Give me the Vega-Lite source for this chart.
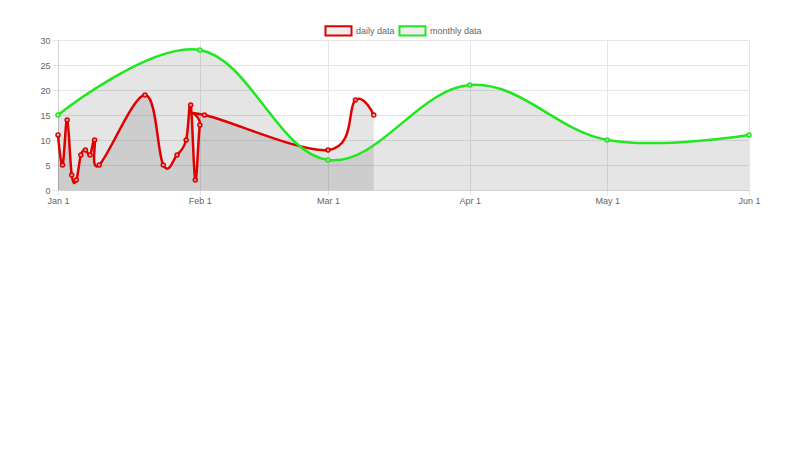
{
  "$schema": "https://vega.github.io/schema/vega-lite/v6.json",
  "autosize": "none",
  "width": 691,
  "height": 150,
  "padding": {"left": 58, "top": 40, "right": 51, "bottom": 260},
  "background": "white",
  "config": {
    "view": {"stroke": null},
    "font": "Liberation Sans",
    "axis": {
      "labelColor": "#666",
      "labelFontSize": 9,
      "labelFont": "Liberation Sans",
      "gridColor": "#e6e6e6",
      "tickColor": "#e6e6e6",
      "domainColor": "#d0d0d0",
      "labelFlush": false,
      "title": null
    }
  },
  "datasets": {
    "series": [
      {"date": "2017-01-01", "value": 11, "series": "daily data"},
      {"date": "2017-01-02", "value": 5, "series": "daily data"},
      {"date": "2017-01-03", "value": 14, "series": "daily data"},
      {"date": "2017-01-04", "value": 3, "series": "daily data"},
      {"date": "2017-01-05", "value": 2, "series": "daily data"},
      {"date": "2017-01-06", "value": 7, "series": "daily data"},
      {"date": "2017-01-07", "value": 8, "series": "daily data"},
      {"date": "2017-01-08", "value": 7, "series": "daily data"},
      {"date": "2017-01-09", "value": 10, "series": "daily data"},
      {"date": "2017-01-10", "value": 5, "series": "daily data"},
      {"date": "2017-01-20", "value": 19, "series": "daily data"},
      {"date": "2017-01-24", "value": 5, "series": "daily data"},
      {"date": "2017-01-27", "value": 7, "series": "daily data"},
      {"date": "2017-01-29", "value": 10, "series": "daily data"},
      {"date": "2017-01-30", "value": 17, "series": "daily data"},
      {"date": "2017-01-31", "value": 2, "series": "daily data"},
      {"date": "2017-02-01", "value": 13, "series": "daily data"},
      {"date": "2017-02-02", "value": 15, "series": "daily data"},
      {"date": "2017-03-01", "value": 8, "series": "daily data"},
      {"date": "2017-03-07", "value": 18, "series": "daily data"},
      {"date": "2017-03-11", "value": 15, "series": "daily data"},
      {"date": "2017-01-01", "value": 15, "series": "monthly data"},
      {"date": "2017-02-01", "value": 28, "series": "monthly data"},
      {"date": "2017-03-01", "value": 6, "series": "monthly data"},
      {"date": "2017-04-01", "value": 21, "series": "monthly data"},
      {"date": "2017-05-01", "value": 10, "series": "monthly data"},
      {"date": "2017-06-01", "value": 11, "series": "monthly data"}
    ]
  },
  "data": {"name": "series"},
  "encoding": {
    "x": {
      "field": "date",
      "type": "temporal",
      "scale": {
        "type": "utc",
        "domain": [
          {"year": 2017, "month": 1, "date": 1, "utc": true},
          {"year": 2017, "month": 6, "date": 1, "utc": true}
        ]
      },
      "axis": {
        "format": "%b %-d",
        "values": [
          {"year": 2017, "month": 1, "date": 1, "utc": true},
          {"year": 2017, "month": 2, "date": 1, "utc": true},
          {"year": 2017, "month": 3, "date": 1, "utc": true},
          {"year": 2017, "month": 4, "date": 1, "utc": true},
          {"year": 2017, "month": 5, "date": 1, "utc": true},
          {"year": 2017, "month": 6, "date": 1, "utc": true}
        ],
        "tickSize": 5,
        "labelPadding": 1
      }
    },
    "y": {
      "field": "value",
      "type": "quantitative",
      "stack": null,
      "scale": {"domain": [0, 30]},
      "axis": {"values": [0, 5, 10, 15, 20, 25, 30], "tickSize": 6, "labelPadding": 2}
    }
  },
  "layer": [
    {
      "mark": {"type": "area", "interpolate": "cardinal", "tension": -0.1, "color": "black", "opacity": 0.1},
      "encoding": {"detail": {"field": "series"}}
    },
    {
      "mark": {"type": "line", "interpolate": "cardinal", "tension": -0.1, "strokeWidth": 2.5},
      "encoding": {
        "color": {
          "field": "series",
          "type": "nominal",
          "scale": {"domain": ["daily data", "monthly data"], "range": ["#e00000", "#22e622"]},
          "legend": {
            "orient": "none",
            "direction": "horizontal",
            "legendX": 270,
            "legendY": -20,
            "title": null,
            "symbolType": "M-1.4,-0.5H1.4V0.5H-1.4Z",
            "symbolSize": 346,
            "symbolFillColor": "#e6e6e6",
            "symbolStrokeWidth": 2,
            "labelFontSize": 9,
            "labelColor": "#666",
            "labelOffset": 7,
            "columnPadding": 0
          }
        }
      }
    },
    {
      "mark": {"type": "point", "filled": false, "size": 16, "strokeWidth": 1.5, "fill": "#eeeeee", "fillOpacity": 0.6},
      "encoding": {"color": {"field": "series", "type": "nominal"}}
    }
  ]
}
